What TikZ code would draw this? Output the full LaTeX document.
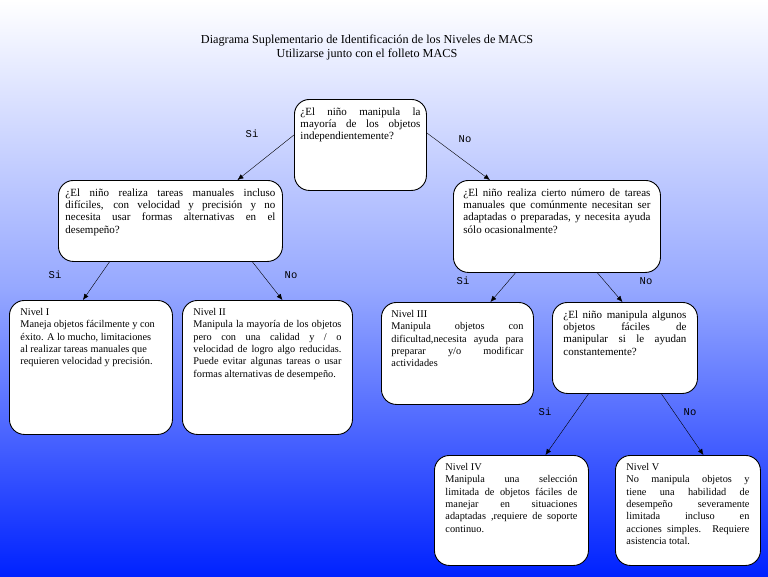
\documentclass[tikz,border=0pt]{standalone}
\usepackage{fontspec}
\setmainfont{Liberation Serif}
\setmonofont{Liberation Mono}
\usetikzlibrary{calc}
\usetikzlibrary{arrows.meta}

\definecolor{topblue}{RGB}{150,168,255}
\definecolor{deepblue}{RGB}{0,34,255}
\newcommand*\boxtext[3]{\parbox[t][#2pt][t]{#1pt}{#3}}

\begin{document}
\begin{tikzpicture}[
	x=1pt, y=-1pt,
	>={Latex[length=6pt,width=5pt]},
	box/.style={draw, fill=white, line width=0.9pt, rounded corners=15pt, anchor=north west,
		inner xsep=#1, inner ysep=8pt},
	box/.default=11pt,
	question/.style={box=#1, font=\fontsize{11}{12.4}\selectfont},
	level/.style={box, font=\fontsize{10.3}{12.3}\selectfont},
	answer/.style={font=\ttfamily\fontsize{10.5}{12}\selectfont}]

	\useasboundingbox (0,0) rectangle (768,576);
	\shade [top color=white, bottom color=deepblue, middle color=topblue] (0,0) rectangle (768,576);

	\node (title) at (367,48) [align=center, font=\fontsize{12.2}{14}\selectfont]
		{Diagrama Suplementario de Identificación de los Niveles de MACS\\Utilizarse junto con el folleto MACS};

	% questions
	\node (q1) at (294,99) [question=6pt] {\boxtext{120}{75}{¿El niño manipula la\linebreak mayoría de los objetos\linebreak independientemente?}};
	\node (q2) at (58,180) [question=7pt] {\boxtext{210}{65}{¿El niño realiza tareas manuales incluso\linebreak difíciles, con velocidad y precisión y no\linebreak necesita usar formas alternativas en el\linebreak desempeño?}};
	\node (q3) at (453,180) [question=10pt] {\boxtext{187}{76}{¿El niño realiza cierto número de tareas\linebreak manuales que comúnmente necesitan ser\linebreak adaptadas o preparadas, y necesita ayuda\linebreak sólo ocasionalmente?}};
	\node (q4) at (552,302) [question=11pt] {\boxtext{123}{75}{¿El niño manipula algunos\linebreak objetos fáciles de\linebreak manipular si le ayudan\linebreak constantemente?}};

	% levels
	\node (n1) at (9,300) [level] {\boxtext{141}{118}{\raggedright Nivel I\\Maneja objetos fácilmente y con\\éxito. A lo mucho, limitaciones\\al realizar tareas manuales que\\requieren velocidad y precisión.}};
	\node (n2) at (182,300) [level] {\boxtext{148}{118}{Nivel II\\Manipula la mayoría de los objetos\linebreak pero con una calidad y / o\linebreak velocidad de logro algo reducidas.\linebreak Puede evitar algunas tareas o usar\linebreak formas alternativas de desempeño.}};
	\node (n3) at (381,302) [level, inner xsep=10pt] {\boxtext{132}{86}{Nivel III\\Manipula objetos con\linebreak dificultad,necesita ayuda para\linebreak preparar y/o modificar\linebreak actividades}};
	\node (n4) at (434,455) [level] {\boxtext{132}{94}{Nivel IV\\Manipula una selección\linebreak limitada de objetos fáciles de\linebreak manejar en situaciones\linebreak adaptadas ,requiere de soporte\linebreak continuo.}};
	\node (n5) at (615,455) [level] {\boxtext{123}{94}{Nivel V\\No manipula objetos y\linebreak tiene una habilidad de\linebreak desempeño severamente\linebreak limitada incluso en\linebreak acciones simples. Requiere\linebreak asistencia total.}};

	\draw [->] ([yshift=10pt]q1.west) -- ([xshift=67pt]q2.north);
	\draw [->] ([yshift=12pt]q1.east) -- ([xshift=-67pt]q3.north);
	\draw [->] ([xshift=-61pt]q2.south) -- ([xshift=-8pt]n1.north);
	\draw [->] ([xshift=82pt]q2.south) -- ([xshift=15pt]n2.north);
	\draw [->] ([xshift=-41.5pt]q3.south) -- ([xshift=33pt]n3.north);
	\draw [->] ([xshift=40.5pt]q3.south) -- ([xshift=-2.5pt]q4.north);
	\draw [->] ([xshift=-36.5pt]q4.south) -- ([xshift=34pt]n4.north);
	\draw [->] ([xshift=36.5pt]q4.south) -- ([xshift=15.5pt]n5.north);

	\node (si1) at (252,134) [answer] {Si};
	\node (no1) at (465,139) [answer] {No};
	\node (si2) at (55,275) [answer] {Si};
	\node (no2) at (291,275) [answer] {No};
	\node (si3) at (463,281) [answer] {Si};
	\node (no3) at (646,281) [answer] {No};
	\node (si4) at (545,412) [answer] {Si};
	\node (no4) at (690,412) [answer] {No};

\end{tikzpicture}
\end{document}
